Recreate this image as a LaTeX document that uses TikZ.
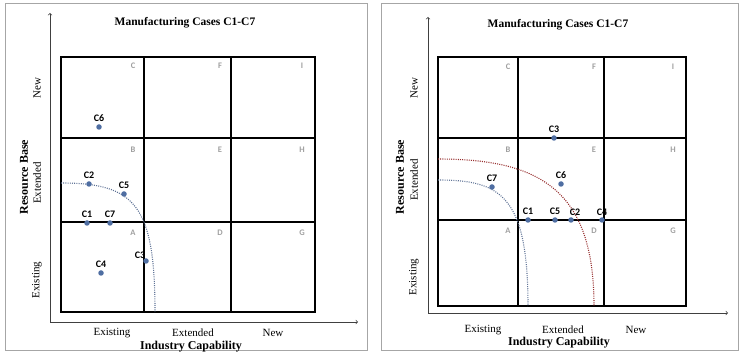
\documentclass[tikz,border=0pt]{standalone}
\usepackage{fontspec}
\setmainfont{Liberation Serif}
\newfontfamily\calib{Carlito}
\usepackage{tikz}
\usetikzlibrary{arrows,positioning}
\definecolor{dotblue}{RGB}{79,110,162}
\definecolor{curveblue}{RGB}{95,115,150}
\definecolor{curvered}{RGB}{150,45,45}
\tikzstyle{frame}=[draw=gray!70,line width=0.6pt]
\tikzstyle{axis}=[draw=black!75,line width=0.7pt,<->,>=to]
\tikzstyle{grid}=[draw=black,line width=1.2pt]
\tikzstyle{cell}=[text=gray!75,font=\calib\bfseries\fontsize{8.5}{9}\selectfont]
\tikzstyle{case}=[circle,fill=dotblue,inner sep=0pt,minimum size=5.5pt]
\tikzstyle{caselabel}=[inner sep=0.5pt,font=\calib\bfseries\fontsize{10}{11}\selectfont]
\tikzstyle{ticklabel}=[font=\fontsize{11}{12}\selectfont]
\tikzstyle{axistitle}=[font=\bfseries\fontsize{12}{13}\selectfont]
\tikzstyle{heading}=[font=\bfseries\fontsize{11.5}{12}\selectfont]
\tikzstyle{bound}=[line width=1.1pt,dash pattern=on 1pt off 1.2pt]

\begin{document}
\begin{tikzpicture}[x=1pt,y=-1pt]
	\useasboundingbox (0,0) rectangle (742,363);
	% left panel
	\draw[frame] (5,3) rectangle (367,350);
	\coordinate (lorig) at (50,322);
	\coordinate (lytop) at (50,13);
	\coordinate (lxend) at (358,322);
	\draw[axis] (lytop) -- (lorig) -- (lxend);
	\node[heading] at (185,23) {Manufacturing Cases C1-C7};
	\draw[grid] (61,57) rectangle (315,312);
	\draw[grid] (144,57) -- (144,312);
	\draw[grid] (231,57) -- (231,312);
	\draw[grid] (61,138) -- (315,138);
	\draw[grid] (61,222) -- (315,222);
	\node[cell] at (133,66) {C};
	\node[cell] at (220,66) {F};
	\node[cell] at (302,66) {I};
	\node[cell] at (133,150) {B};
	\node[cell] at (220,150) {E};
	\node[cell] at (302,150) {H};
	\node[cell] at (133,233) {A};
	\node[cell] at (220,233) {D};
	\node[cell] at (302,233) {G};
	\node[ticklabel,rotate=90] at (37,88) {New};
	\node[ticklabel,rotate=90] at (37,183) {Extended};
	\node[ticklabel,rotate=90] at (37,280) {Existing};
	\node[axistitle,rotate=90] at (24,177) {Resource Base};
	\node[ticklabel] at (112,333) {Existing};
	\node[ticklabel] at (193,333) {Extended};
	\node[ticklabel] at (273,333) {New};
	\node[axistitle] at (191,347) {Industry Capability};
	\draw[bound,curveblue] (61,183) .. controls (135,183) and (155,205) .. (155,312);
	\node[case] (l6) at (99,127) {};
	\node[case] (l2) at (89,184) {};
	\node[case] (l5) at (124,194) {};
	\node[case] (l1) at (87,223) {};
	\node[case] (l7) at (110,223) {};
	\node[case] (l3) at (146,261) {};
	\node[case] (l4) at (101,273) {};
	\node[caselabel,above=2pt of l6] {C6};
	\node[caselabel,above=2pt of l2] {C2};
	\node[caselabel,above=2pt of l5] {C5};
	\node[caselabel,above=2pt of l1] {C1};
	\node[caselabel,above=2pt of l7] {C7};
	\node[caselabel,above left=0pt and -2pt of l3] {C3};
	\node[caselabel,above=2pt of l4] {C4};
	% right panel
	\draw[frame] (381,3) rectangle (738,350);
	\coordinate (rorig) at (428,313);
	\coordinate (rytop) at (428,17);
	\coordinate (rxend) at (728,313);
	\draw[axis] (rytop) -- (rorig) -- (rxend);
	\node[heading] at (558,25) {Manufacturing Cases C1-C7};
	\draw[grid] (438,57) rectangle (686,306);
	\draw[grid] (518,57) -- (518,306);
	\draw[grid] (604,57) -- (604,306);
	\draw[grid] (438,138) -- (686,138);
	\draw[grid] (438,220) -- (686,220);
	\node[cell] at (508,67) {C};
	\node[cell] at (594,67) {F};
	\node[cell] at (673,67) {I};
	\node[cell] at (508,150) {B};
	\node[cell] at (594,150) {E};
	\node[cell] at (673,150) {H};
	\node[cell] at (508,231) {A};
	\node[cell] at (594,231) {D};
	\node[cell] at (673,231) {G};
	\node[ticklabel,rotate=90] at (414,88) {New};
	\node[ticklabel,rotate=90] at (414,180) {Extended};
	\node[ticklabel,rotate=90] at (414,277) {Existing};
	\node[axistitle,rotate=90] at (400,177) {Resource Base};
	\node[ticklabel] at (483,330) {Existing};
	\node[ticklabel] at (563,330) {Extended};
	\node[ticklabel] at (636,330) {New};
	\node[axistitle] at (559,343) {Industry Capability};
	\draw[bound,curveblue] (438,180) .. controls (500,180) and (528,195) .. (528,306);
	\draw[bound,curvered] (438,159) .. controls (540,159) and (594,190) .. (594,306);
	\node[case] (r3) at (554,138) {};
	\node[case] (r6) at (561,184) {};
	\node[case] (r7) at (492,187) {};
	\node[case] (r1) at (528,220) {};
	\node[case] (r5) at (555,220) {};
	\node[case] (r2) at (571,220) {};
	\node[case] (r4) at (602,220) {};
	\node[caselabel,above=2pt of r3] {C3};
	\node[caselabel,above=2pt of r6] {C6};
	\node[caselabel,above=2pt of r7] {C7};
	\node[caselabel,above=2pt of r1] {C1};
	\node[caselabel,above=2pt of r5] {C5};
	\node[caselabel,above right=2pt and -4pt of r2] {C2};
	\node[caselabel,above=1pt of r4] {C4};
\end{tikzpicture}
\end{document}
